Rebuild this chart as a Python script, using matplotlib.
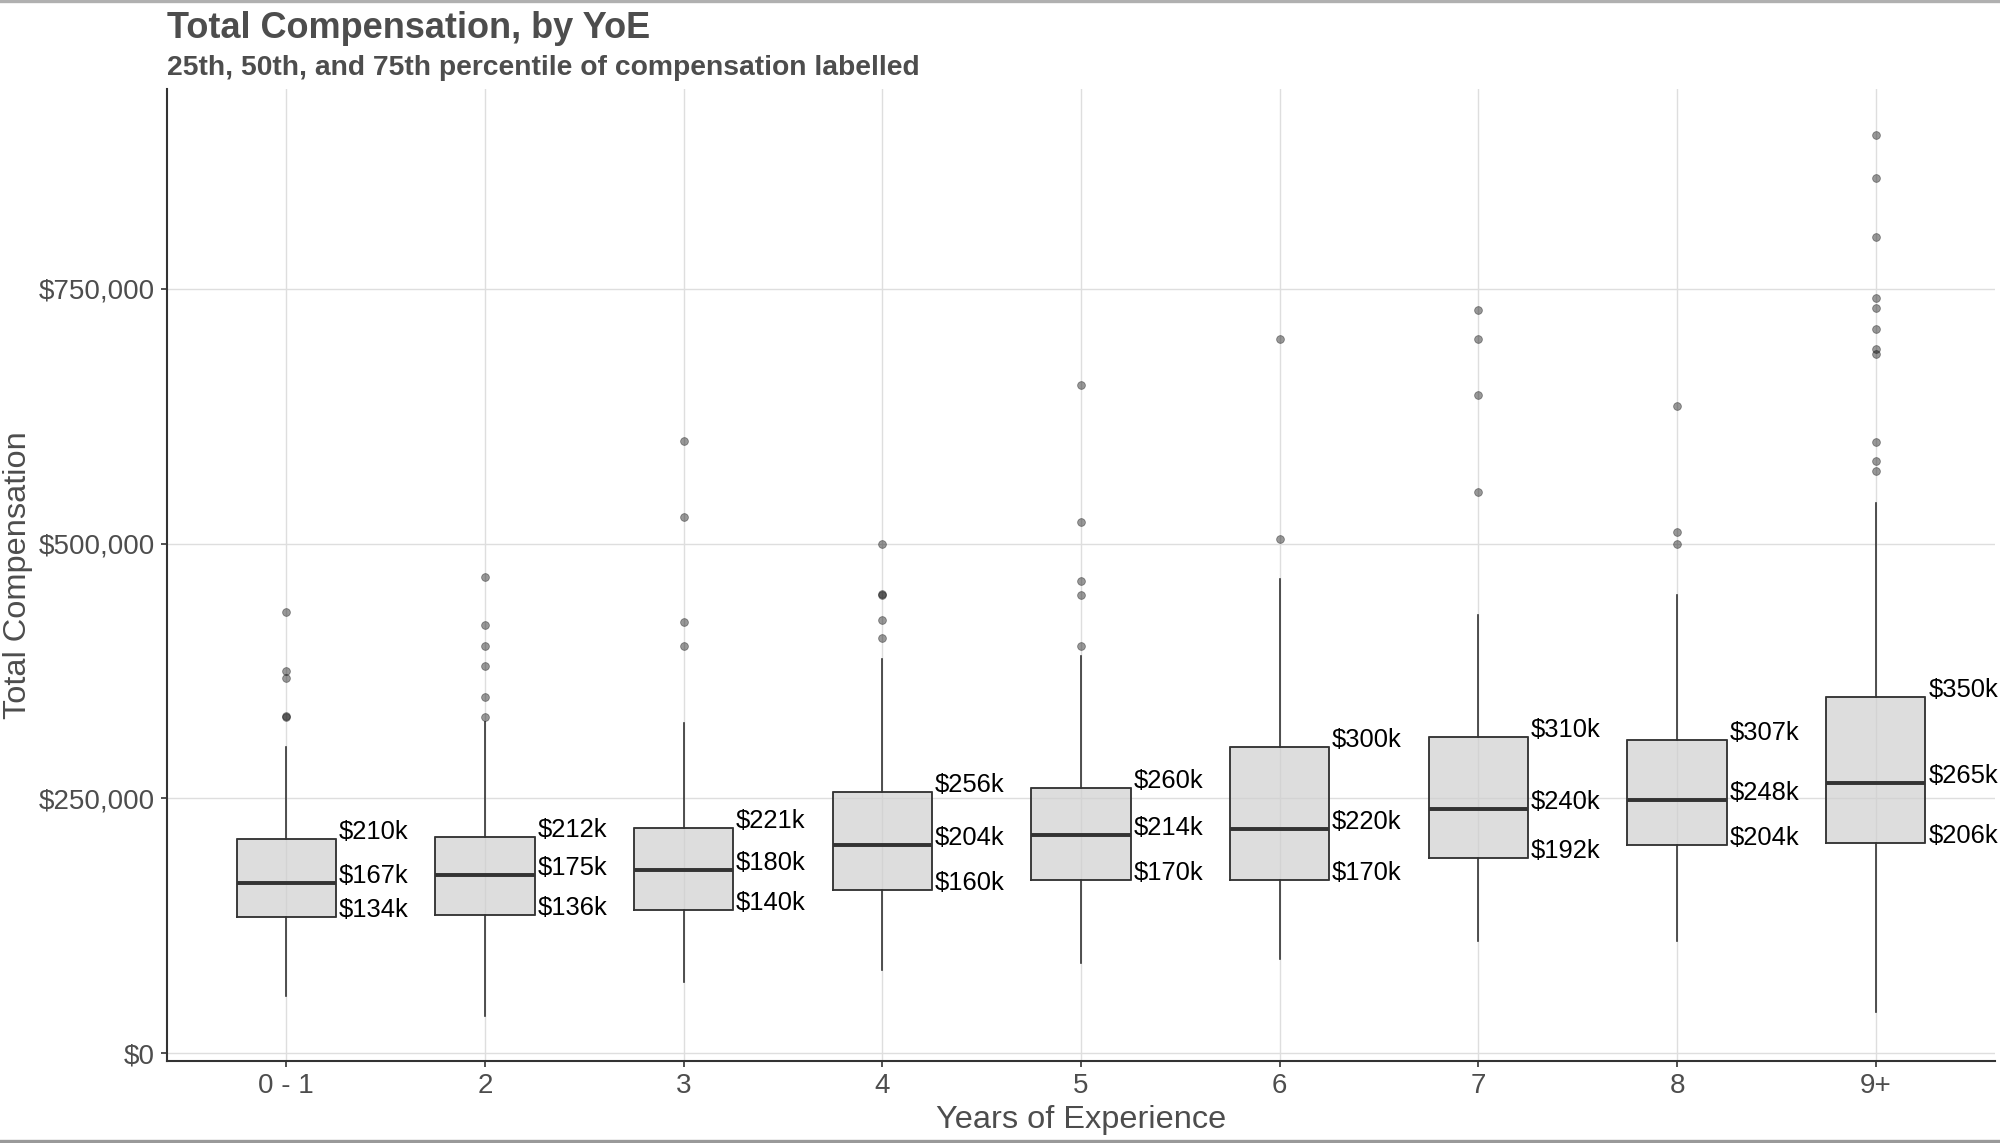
import matplotlib
matplotlib.use('Agg')
import matplotlib.pyplot as plt
from matplotlib.lines import Line2D
from matplotlib.ticker import FuncFormatter

plt.rcParams['font.family'] = ['Liberation Sans', 'DejaVu Sans']

# data
yoe = ['0 - 1', '2', '3', '4', '5', '6', '7', '8', '9+']
q1 = [134000, 136000, 140000, 160000, 170000, 170000, 192000, 204000, 206000]
med = [167000, 175000, 180000, 204000, 214000, 220000, 240000, 248000, 265000]
q3 = [210000, 212000, 221000, 256000, 260000, 300000, 310000, 307000, 350000]
whis_lo = [56000, 36000, 70000, 82000, 88000, 92000, 110000, 110000, 40000]
whis_hi = [300000, 325000, 324000, 387000, 390000, 465000, 430000, 450000, 540000]
outliers = [
    [433000, 375000, 368000, 331000, 330000],
    [467000, 420000, 400000, 380000, 350000, 330000],
    [601000, 526000, 423000, 400000],
    [500000, 451000, 450000, 425000, 407000],
    [656000, 521000, 463000, 450000, 400000],
    [701000, 505000],
    [729000, 701000, 646000, 551000],
    [635000, 511000, 500000],
    [901000, 859000, 801000, 741000, 731000, 711000, 691000, 686000, 600000, 581000, 571000],
]

grey_txt = '#4d4d4d'
dark = '#333333'

fig = plt.figure(figsize=(10, 5.715), dpi=200)
ax = fig.add_axes([0.0835, 0.072, 0.914, 0.85])

stats = []
for i in range(len(yoe)):
    stats.append(dict(med=med[i], q1=q1[i], q3=q3[i], whislo=whis_lo[i],
                      whishi=whis_hi[i], fliers=outliers[i], label=yoe[i]))

pos = list(range(1, len(yoe) + 1))
ax.bxp(stats, positions=pos, widths=0.5, patch_artist=True, showcaps=False,
       boxprops=dict(facecolor='#cfcfcf', alpha=0.7, edgecolor=dark, linewidth=0.6),
       whiskerprops=dict(color=dark, linewidth=0.6),
       medianprops=dict(color=dark, linewidth=1.3, solid_capstyle='butt'),
       flierprops=dict(marker='o', markersize=2.8, markerfacecolor='black',
                       markeredgecolor='black', markeredgewidth=0.3, alpha=0.4),
       zorder=3)
# box edges fully opaque on top of translucent fill
for i in range(len(yoe)):
    ax.plot([pos[i] - 0.25, pos[i] + 0.25, pos[i] + 0.25, pos[i] - 0.25, pos[i] - 0.25],
            [q1[i], q1[i], q3[i], q3[i], q1[i]], color=dark, linewidth=0.6, zorder=4)
    ax.plot([pos[i] - 0.25, pos[i] + 0.25], [med[i], med[i]], color=dark,
            linewidth=1.3, solid_capstyle='butt', zorder=4)

# percentile labels
for i in range(len(yoe)):
    for v in (q1[i], med[i], q3[i]):
        ax.annotate(f'${round(v / 1000)}k', xy=(pos[i] + 0.25, v), xytext=(1, 0),
                    textcoords='offset points', ha='left', va='baseline',
                    fontsize=9.2, color='black', zorder=5)

ax.set_xlim(0.4, 9.6)
ax.set_ylim(-7400, 946000)
ax.set_xticks(pos)
ax.set_xticklabels(yoe)
ax.set_yticks([0, 250000, 500000, 750000])
ax.yaxis.set_major_formatter(FuncFormatter(lambda v, p: f'${v:,.0f}'))

ax.grid(True, color='#dedede', linewidth=0.5, zorder=0)
ax.set_axisbelow(True)
for s in ['top', 'right']:
    ax.spines[s].set_visible(False)
for s in ['left', 'bottom']:
    ax.spines[s].set_color(dark)
    ax.spines[s].set_linewidth(0.75)
ax.tick_params(axis='both', length=2, width=0.6, color=dark, labelsize=10,
               labelcolor=grey_txt, pad=2.5)

ax.set_xlabel('Years of Experience', fontsize=11.7, color=grey_txt, labelpad=2)
ax.set_ylabel('Total Compensation', fontsize=11.7, color=grey_txt, labelpad=2)

fig.text(0.0835, 0.9668, 'Total Compensation, by YoE', fontsize=13,
         fontweight='bold', color=grey_txt, va='baseline', ha='left')
fig.text(0.0835, 0.9344, '25th, 50th, and 75th percentile of compensation labelled',
         fontsize=10.2, fontweight='bold', color=grey_txt, va='baseline', ha='left')

# thin grey frame lines at top and bottom of the image
fig.add_artist(Line2D([0, 1], [0.999, 0.999], transform=fig.transFigure,
                      color='#b0b0b0', linewidth=1.2))
fig.add_artist(Line2D([0, 1], [0.0015, 0.0015], transform=fig.transFigure,
                      color='#999999', linewidth=1.2))

fig.savefig('out.png', dpi=200, facecolor='white')
